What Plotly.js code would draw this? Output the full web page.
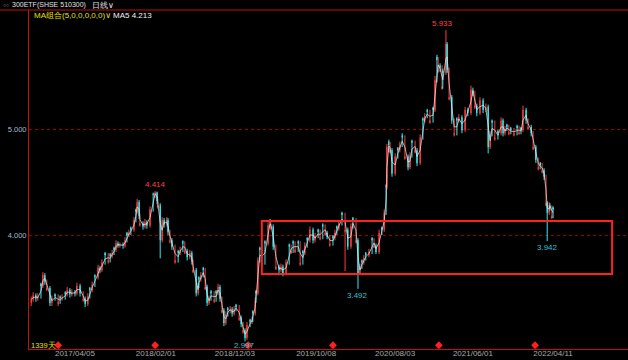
<!DOCTYPE html>
<html><head><meta charset="utf-8">
<script src="https://cdn.plot.ly/plotly-3.0.1.min.js"></script>
<style>html,body{margin:0;padding:0;background:#000;}#c{width:628px;height:360px;}</style>
</head><body><div id="c"></div>
<script>
// trading-day index of each candle
const days = [3,8,15,20,28,33,38,43,51,56,64,72,77,82,90,95,102,107,115,120,128,136,141,148,153,159,166,174,179,184,192,200,205,210,215,220,225,230,238,243,248,253,258,266,271,274,279,281,289,294,299,307,315,320,325,327,333,338,343,350,353,358,363,371,379,384,391,396,402,409,414,417,425,430,432,437,443,448,453,458,463,471,476,481,486,491,496,501,506,512,517,522,527,535,540,545,550,555,563,568,570,576,578,583,588,593,601,609,614,616,622,629,637,642,647,655,663,668,673,678,686,691,698,703,709,716,724,729,737,742,749,755,760,767,775,780,785,790,798,806,813,821,826,834,839,844,849,854,859,867,875,880,885,893,900,906,911,913,918,921,926,934,941,946,952,959,967,972,977,985,990,998,1005,1010,1016,1023,1031,1036,1041,1044,1049,1054,1056,1064,1067,1072,1079,1085,1092,1097,1105,1113,1120,1128,1133,1138,1143,1151,1159,1166,1172,1177,1182,1189,1197,1205,1210,1215,1220,1225,1230,1238,1246,1251,1256,1261,1269,1274,1282,1287,1294,1300,1305,1310,1315,1320,1323,1328,1330,1335,1338];
const close = [3.39,3.43,3.40,3.42,3.52,3.62,3.56,3.50,3.36,3.40,3.42,3.37,3.40,3.41,3.44,3.48,3.44,3.46,3.45,3.52,3.45,3.40,3.35,3.42,3.48,3.53,3.60,3.69,3.67,3.74,3.81,3.76,3.80,3.83,3.86,3.92,3.90,3.91,3.90,3.95,4.00,4.02,4.05,4.14,4.22,4.31,4.18,4.11,4.08,4.12,4.09,4.24,4.38,4.40,4.32,4.28,3.95,4.14,4.10,4.14,4.03,3.95,3.89,3.76,3.83,3.86,3.92,3.85,3.79,3.83,3.75,3.67,3.45,3.52,3.58,3.62,3.67,3.51,3.36,3.40,3.45,3.39,3.45,3.51,3.40,3.29,3.17,3.25,3.29,3.30,3.26,3.30,3.32,3.22,3.16,3.10,3.03,3.15,3.18,3.20,3.26,3.38,3.45,3.76,3.86,3.74,3.92,4.09,4.12,4.08,3.89,3.70,3.67,3.70,3.64,3.74,3.89,3.85,3.92,3.86,3.92,3.74,3.83,3.90,3.95,4.05,3.95,3.99,4.03,3.98,4.08,4.02,3.98,3.92,3.97,4.02,4.06,4.11,4.19,4.05,3.89,4.08,4.14,3.95,3.64,3.70,3.74,3.78,3.81,3.84,3.95,3.90,3.84,4.02,4.05,4.21,4.45,4.83,4.85,4.80,4.58,4.74,4.80,4.85,4.92,4.74,4.64,4.75,4.87,4.80,4.68,4.92,5.08,5.12,5.16,5.08,5.18,5.46,5.65,5.56,5.58,5.40,5.53,5.80,5.56,5.30,5.08,4.96,5.08,5.11,4.99,5.18,5.15,5.37,5.34,5.22,5.15,5.27,5.18,5.21,4.83,4.95,5.06,4.92,4.96,5.08,4.96,5.00,5.02,4.97,4.99,4.96,5.01,4.97,4.99,5.18,5.08,5.02,4.96,4.83,4.71,4.64,4.66,4.61,4.55,4.30,4.21,4.28,4.26,4.18,4.24];
const open = [3.36,3.39,3.43,3.40,3.54,3.52,3.62,3.48,3.50,3.36,
3.44,3.35,3.42,3.40,3.46,3.44,3.48,3.44,3.46,3.45,
3.52,3.38,3.40,3.35,3.50,3.48,3.62,3.60,3.69,3.67,
3.83,3.74,3.82,3.80,3.88,3.86,3.92,3.90,3.91,3.90,
4.02,4.00,4.07,4.05,4.24,4.22,4.31,4.09,4.11,4.08,
4.12,4.09,4.39,4.38,4.40,4.26,4.28,3.95,4.14,4.10,
4.14,3.93,3.95,3.74,3.85,3.83,3.94,3.83,3.85,3.79,
3.83,3.65,3.67,3.45,3.60,3.58,3.69,3.49,3.51,3.36,
3.47,3.37,3.47,3.45,3.51,3.27,3.29,3.17,3.31,3.29,
3.30,3.26,3.34,3.20,3.22,3.08,3.10,3.03,3.20,3.18,
3.28,3.26,3.47,3.45,3.88,3.72,3.94,3.92,4.14,4.06,
4.08,3.68,3.70,3.67,3.70,3.64,3.91,3.83,3.94,3.84,
3.94,3.72,3.85,3.83,3.97,3.95,4.05,3.95,4.05,3.96,
4.10,4.00,4.02,3.90,3.99,3.97,4.08,4.06,4.21,4.03,
4.05,3.89,4.16,3.93,3.95,3.64,3.76,3.74,3.83,3.81,
3.97,3.88,3.90,3.84,4.07,4.05,4.47,4.45,4.88,4.78,
4.80,4.58,4.82,4.80,4.94,4.72,4.74,4.64,4.89,4.78,
4.80,4.68,5.10,5.08,5.18,5.06,5.20,5.18,5.68,5.54,
5.60,5.38,5.55,5.53,5.80,5.28,5.30,4.94,5.10,5.08,
5.11,4.99,5.18,5.15,5.37,5.20,5.22,5.15,5.27,5.18,
5.21,4.83,5.08,4.90,4.98,4.96,5.08,4.96,5.04,4.95,
5.01,4.94,5.03,4.95,5.01,4.99,5.18,5.00,5.02,4.81,
4.83,4.62,4.68,4.59,4.61,4.28,4.30,4.21,4.28,4.16,
4.26];
const high = [3.42,3.46,3.45,3.45,3.55,3.65,3.64,3.58,3.52,3.43,3.45,3.44,3.43,3.44,3.47,3.51,3.50,3.49,3.48,3.55,3.54,3.47,3.42,3.45,3.51,3.56,3.63,3.72,3.71,3.77,3.84,3.83,3.83,3.86,3.89,3.95,3.94,3.93,3.93,3.98,4.03,4.05,4.08,4.17,4.25,4.34,4.33,4.20,4.13,4.15,4.14,4.27,4.40,4.414,4.41,4.34,4.30,4.17,4.16,4.17,4.16,4.05,3.97,3.91,3.86,3.89,3.95,3.94,3.87,3.86,3.85,3.77,3.69,3.55,3.61,3.65,3.70,3.69,3.53,3.43,3.48,3.47,3.48,3.54,3.53,3.42,3.31,3.28,3.32,3.33,3.32,3.33,3.35,3.34,3.24,3.18,3.12,3.18,3.21,3.23,3.29,3.41,3.48,3.79,3.89,3.88,3.95,4.12,4.15,4.14,4.10,3.91,3.72,3.73,3.72,3.77,3.92,3.91,3.95,3.94,3.95,3.94,3.86,3.93,3.98,4.08,4.07,4.02,4.06,4.05,4.11,4.10,4.04,4.00,4.00,4.05,4.09,4.14,4.22,4.21,4.07,4.11,4.17,4.16,3.97,3.73,3.77,3.81,3.84,3.87,3.98,3.97,3.92,4.05,4.08,4.24,4.48,4.86,4.90,4.88,4.82,4.77,4.83,4.88,4.96,4.94,4.76,4.78,4.90,4.89,4.82,4.95,5.11,5.15,5.19,5.18,5.21,5.50,5.70,5.68,5.62,5.60,5.57,5.933,5.82,5.58,5.32,5.10,5.11,5.14,5.13,5.21,5.20,5.41,5.39,5.36,5.24,5.30,5.29,5.24,5.23,4.98,5.09,5.08,4.99,5.11,5.10,5.03,5.05,5.04,5.02,5.01,5.04,5.03,5.02,5.22,5.20,5.10,5.04,4.98,4.85,4.73,4.69,4.68,4.63,4.57,4.32,4.31,4.30,4.28,4.27];
const low = [3.33,3.37,3.37,3.38,3.40,3.50,3.53,3.47,3.33,3.33,3.38,3.33,3.35,3.38,3.39,3.42,3.41,3.42,3.42,3.43,3.42,3.37,3.32,3.33,3.40,3.46,3.51,3.58,3.64,3.65,3.72,3.73,3.74,3.78,3.81,3.84,3.88,3.88,3.87,3.88,3.93,3.98,4.00,4.03,4.12,4.20,4.15,4.08,4.05,4.06,4.06,4.07,4.22,4.35,4.29,4.25,3.78,3.93,4.07,4.08,4.00,3.92,3.86,3.73,3.74,3.81,3.84,3.82,3.76,3.77,3.72,3.64,3.42,3.43,3.50,3.56,3.60,3.48,3.33,3.34,3.38,3.36,3.37,3.43,3.37,3.26,3.14,3.15,3.23,3.26,3.23,3.24,3.28,3.19,3.13,3.07,2.997,3.01,3.13,3.16,3.18,3.24,3.36,3.43,3.74,3.71,3.72,3.90,4.07,4.05,3.86,3.67,3.62,3.65,3.61,3.62,3.72,3.82,3.83,3.83,3.84,3.71,3.72,3.81,3.88,3.93,3.92,3.93,3.97,3.95,3.96,4.00,3.96,3.89,3.90,3.95,4.00,4.04,4.09,3.66,3.86,3.87,4.06,3.92,3.492,3.62,3.68,3.72,3.76,3.79,3.82,3.88,3.82,3.82,4.00,4.03,4.19,4.43,4.78,4.77,4.55,4.56,4.72,4.78,4.83,4.71,4.61,4.62,4.73,4.77,4.65,4.66,4.90,5.06,5.10,5.05,5.06,5.16,5.44,5.53,5.54,5.37,5.38,5.51,5.53,5.27,5.05,4.93,4.94,5.06,4.96,4.97,5.12,5.13,5.31,5.19,5.12,5.13,5.15,5.16,4.77,4.81,4.93,4.89,4.90,4.94,4.93,4.94,4.98,4.94,4.95,4.93,4.94,4.95,4.95,4.97,5.05,5.00,4.93,4.80,4.68,4.61,4.62,4.58,4.52,4.27,3.942,4.19,4.23,4.15,4.16];
// x axis tick labels (trading-day index of each label)
const tickDays = [115,322,524,732,934,1133,1338];
const tickLabels = ['2017/04/05','2018/02/01','2018/12/03','2019/10/08','2020/08/03','2021/06/01','2022/04/11'];
// event markers (red diamonds)
const eventDays = [72,320,558,775,1046,1292];
// boxed consolidation range
const boxDays = [593,1489];
const boxPrices = [3.632,4.132];

// MA line through the closes
const ma = close.map((c,i)=> i===0 ? c : (c+close[i-1])/2);

const iMax = high.indexOf(Math.max(...high));
const iMin = low.indexOf(Math.min(...low));
function localMin(a,b){let k=a;for(let i=a;i<=b;i++) if(low[i]<low[k]) k=i;return k;}
function localMax(a,b){let k=a;for(let i=a;i<=b;i++) if(high[i]>high[k]) k=i;return k;}
const i414 = localMax(0,100);
const i349 = localMin(120,160);
const i394 = localMin(215,230);

const FONT = 'Liberation Sans, DejaVu Sans, sans-serif';
const traces = [
 {type:'candlestick', x:days, open:open, high:high, low:low, close:close,
  increasing:{line:{color:'#ff3c3c',width:1}, fillcolor:'#ff3c3c'},
  decreasing:{line:{color:'#38e8f0',width:1}, fillcolor:'#38e8f0'},
  whiskerwidth:0, hoverinfo:'skip', showlegend:false},
 {type:'scatter', mode:'lines', x:days, y:ma, line:{color:'rgba(235,235,235,0.7)',width:1}, hoverinfo:'skip', showlegend:false},
 {type:'scatter', mode:'markers', x:eventDays, y:eventDays.map(()=>0.011), yaxis:'y2',
  marker:{symbol:'diamond', size:6, color:'#ff2020'}, hoverinfo:'skip', showlegend:false}
];

function pxX(px){return (px-29)/599;}
const ann = [
 {xref:'paper', yref:'paper', x:pxX(1), y:1, yshift:5, xanchor:'left', yanchor:'middle', text:'○○', showarrow:false, font:{family:FONT,size:5,color:'#d0d0d0'}},
 {xref:'paper', yref:'paper', x:pxX(10), y:1, yshift:5, xanchor:'left', yanchor:'middle', text:'300ETF(SHSE 510300)', showarrow:false, font:{family:FONT,size:7,color:'#e0e0e0'}},
 {xref:'paper', yref:'paper', x:pxX(90), y:1, yshift:5, xanchor:'left', yanchor:'middle', text:'日线∨', showarrow:false, font:{family:FONT,size:8,color:'#e0e0e0'}},
 {xref:'paper', yref:'paper', x:pxX(32), y:1, yshift:-5, xanchor:'left', yanchor:'middle', text:'MA组合(5,0,0,0,0,0)∨', showarrow:false, font:{family:FONT,size:8,color:'#e0e000'}},
 {xref:'paper', yref:'paper', x:pxX(111), y:1, yshift:-5, xanchor:'left', yanchor:'middle', text:'MA5 4.213', showarrow:false, font:{family:FONT,size:8,color:'#f0f0f0'}},
 {xref:'paper', yref:'paper', x:pxX(29), y:0, yshift:4, xanchor:'left', yanchor:'middle', text:'1339天', showarrow:false, font:{family:FONT,size:7.5,color:'#e0e000'}},
 {x:days[iMax], y:high[iMax], xshift:-3, yanchor:'bottom', text:high[iMax].toFixed(3), showarrow:false, font:{family:FONT,size:8,color:'#ff4040'}},
 {x:days[i414], y:high[i414], yanchor:'bottom', text:high[i414].toFixed(3), showarrow:false, font:{family:FONT,size:8,color:'#ff4040'}},
 {x:days[iMin], y:low[iMin], xshift:-1, yshift:2, yanchor:'top', text:low[iMin].toFixed(3), showarrow:false, font:{family:FONT,size:8,color:'#20c8d8'}},
 {x:days[i349], y:low[i349], yanchor:'top', text:low[i349].toFixed(3), showarrow:false, font:{family:FONT,size:8,color:'#20c8d8'}},
 {x:days[i394], y:low[i394], yanchor:'top', text:low[i394].toFixed(3), showarrow:false, font:{family:FONT,size:8,color:'#20c8d8'}}
];

const layout = {
 width:628, height:360,
 margin:{l:29, r:0, t:10, b:11},
 paper_bgcolor:'#000', plot_bgcolor:'#000',
 showlegend:false, hovermode:false,
 font:{family:FONT, size:8, color:'#a0a0a0'},
 xaxis:{range:[-2.6,1529.7], tickvals:tickDays, ticktext:tickLabels, showgrid:false, zeroline:false,
   showline:true, linecolor:'#c01010', linewidth:1, ticks:'', ticklabelstandoff:-4, rangeslider:{visible:false},
   tickfont:{family:FONT,size:8,color:'#a8a8a8'}, fixedrange:true},
 yaxis:{range:[2.9245,6.1226], tickvals:[4,5], ticktext:['4.000','5.000'], showgrid:true,
   gridcolor:'#9a0000', griddash:'3px,3px', gridwidth:1, zeroline:false, showline:true,
   linecolor:'#c01010', linewidth:1, ticks:'', tickfont:{family:FONT,size:7.5,color:'#a8b8d0'}, fixedrange:true},
 yaxis2:{overlaying:'y', range:[0,1], visible:false, fixedrange:true},
 shapes:[
  {type:'line', xref:'paper', yref:'paper', x0:pxX(0), x1:1, y0:1, y1:1, line:{color:'#c01010',width:1}},
  {type:'rect', xref:'x', yref:'y', x0:boxDays[0], x1:boxDays[1], y0:boxPrices[0], y1:boxPrices[1], line:{color:'#ff2020',width:2}}
 ],
 annotations:ann
};
Plotly.newPlot('c', traces, layout, {staticPlot:true, displayModeBar:false});
</script></body></html>
